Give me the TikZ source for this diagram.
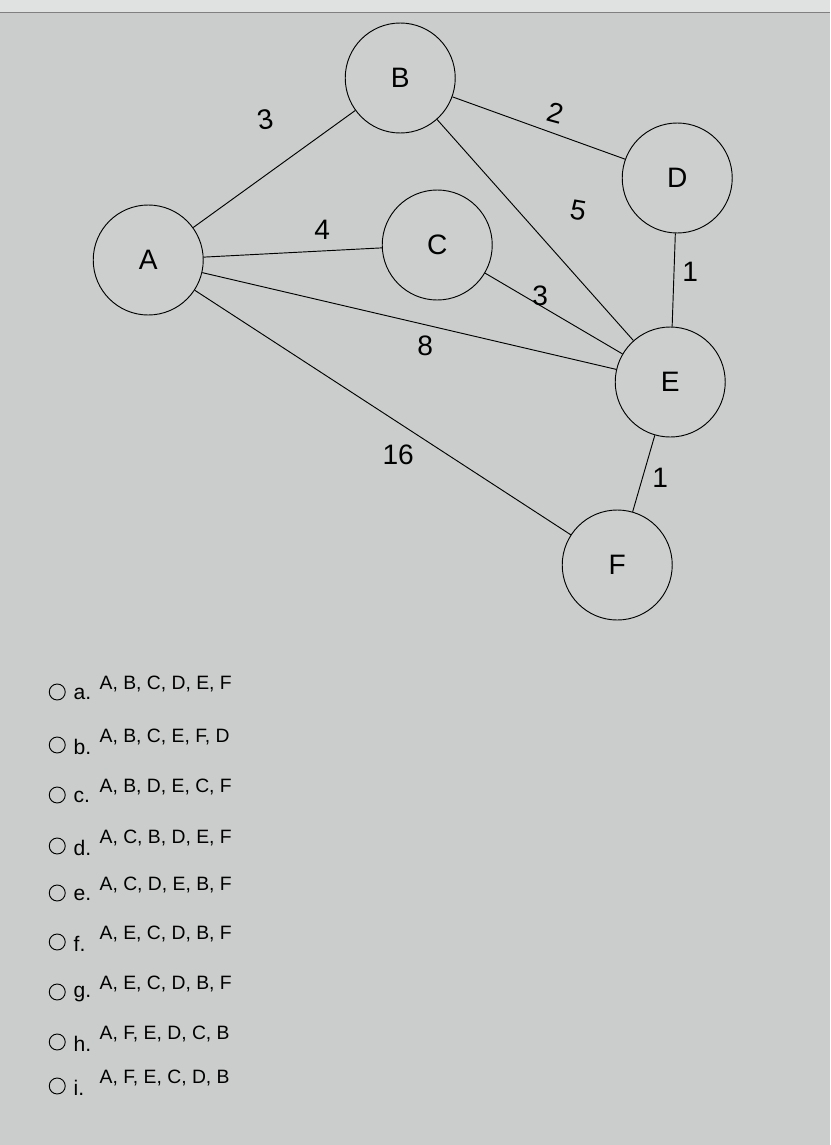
\documentclass[tikz,border=0pt]{standalone}
\usepackage{fontspec}
\setmainfont{Liberation Sans}
\definecolor{screen}{HTML}{CBCDCD}
\definecolor{nodefill}{HTML}{CDCFCF}
\tikzset{
  vertex/.style={circle, draw, thick, fill=nodefill, minimum size=3.3cm, font=\fontsize{24}{24}\selectfont},
  edge/.style={thick},
  weight/.style={font=\fontsize{24}{24}\selectfont},
  radio/.style={circle, draw, thick, minimum size=0.48cm, inner sep=0pt},
  choice/.style={anchor=west, inner sep=1pt, font=\fontsize{16.5}{16.5}\selectfont},
  choicelbl/.style={anchor=west, inner sep=1pt, font=\fontsize{18}{18}\selectfont},
}
\begin{document}
\begin{tikzpicture}[x=0.03cm, y=-0.03cm]
    \fill[screen] (0,0) rectangle (830,1145);
    \fill[screen!60!white] (0,0) rectangle (830,12);
    \draw[gray] (0,12) -- (830,12);

    \node[vertex] (B) at (400,78) {B};
    \node[vertex] (D) at (677,178) {D};
    \node[vertex] (C) at (437,245) {C};
    \node[vertex] (A) at (148,260) {A};
    \node[vertex] (E) at (670,382) {E};
    \node[vertex] (F) at (617,565) {F};

    \draw[edge] (A) -- (B);
    \draw[edge] (B) -- (D);
    \draw[edge] (B) -- (E);
    \draw[edge] (A) -- (C);
    \draw[edge] (C) -- (E);
    \draw[edge] (A) -- (E);
    \draw[edge] (D) -- (E);
    \draw[edge] (A) -- (F);
    \draw[edge] (E) -- (F);

    \node[weight, rotate=10] (wab) at (265,120) {3};
    \node[weight, rotate=-15] (wbd) at (555,113) {2};
    \node[weight, rotate=-10] (wbe) at (578,210) {5};
    \node[weight] (wac) at (322,230) {4};
    \node[weight] (wce) at (540,296) {3};
    \node[weight] (wae) at (425,346) {8};
    \node[weight] (wde) at (690,272) {1};
    \node[weight] (waf) at (398,455) {16};
    \node[weight] (wef) at (660,478) {1};

    % answer choices
    \foreach \y/\l/\t [count=\i] in {692/a./{A, B, C, D, E, F}, 745/b./{A, B, C, E, F, D},
        795/c./{A, B, D, E, C, F}, 846/d./{A, C, B, D, E, F}, 893/e./{A, C, D, E, B, F},
        942/f./{A, E, C, D, B, F}, 992/g./{A, E, C, D, B, F}, 1042/h./{A, F, E, D, C, B},
        1086/i./{A, F, E, C, D, B}} {
      \node[radio] (r\i) at (57,\y) {};
      \node[choicelbl] (l\i) at (72,\y+2) {\l};
      \node[choice] (t\i) at (98,\y-8) {\t};
    }
\end{tikzpicture}
\end{document}
